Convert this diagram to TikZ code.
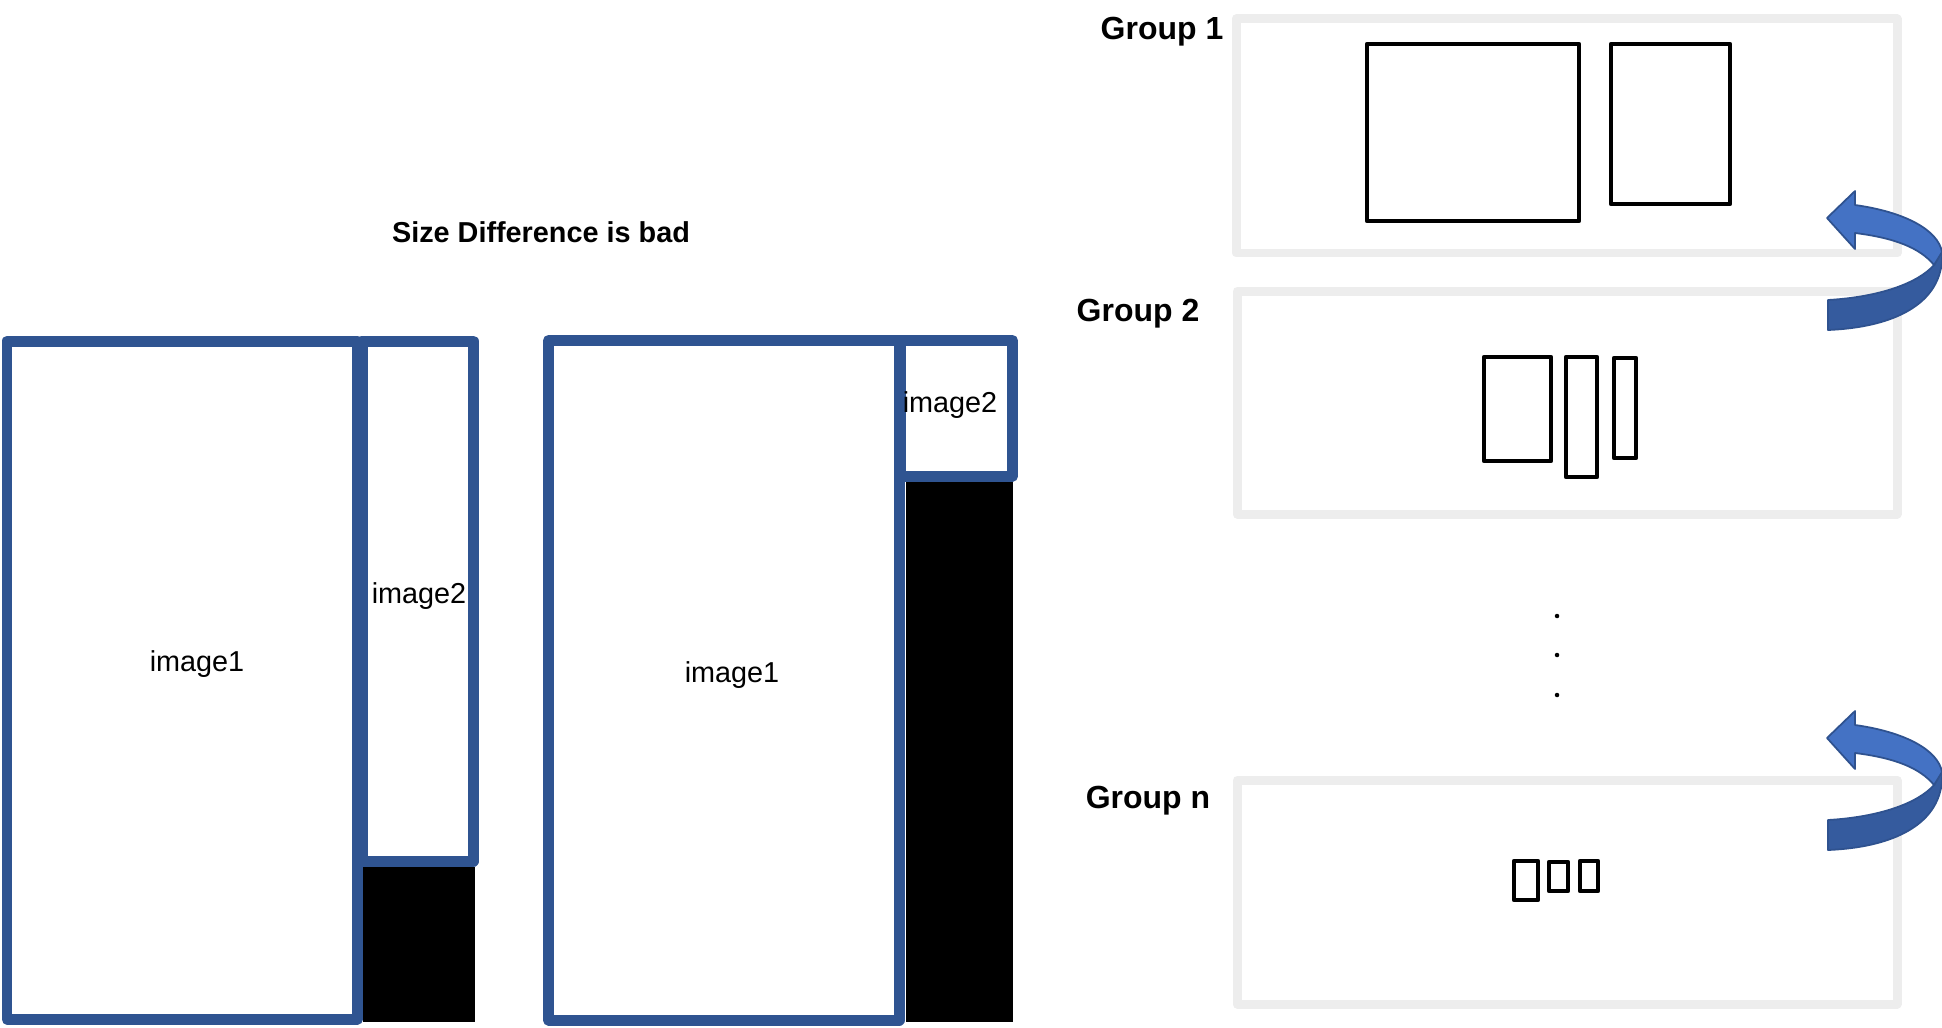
\documentclass[tikz,border=0pt]{standalone}
\usepackage{fontspec}
\setmainfont{Liberation Sans}
\definecolor{imgblue}{RGB}{47,84,145}
\definecolor{grpgray}{RGB}{237,237,237}
\definecolor{arrlight}{RGB}{68,114,196}
\definecolor{arrdark}{RGB}{53,91,158}
\definecolor{arredge}{RGB}{47,82,143}
\begin{document}
\begin{tikzpicture}[x=0.02cm, y=-0.02cm,
	img/.style = {draw=imgblue, line width=0.22cm, line join=round},
	grp/.style = {draw=grpgray, line width=0.18cm, line join=round},
	item/.style = {draw, line width=0.09cm, line join=round},
	lbl/.style = {font=\fontsize{16.4}{19}\selectfont, inner sep=0pt},
	title/.style = {font=\bfseries\fontsize{16.4}{19}\selectfont, inner sep=0pt},
	glbl/.style = {font=\bfseries\fontsize{18.2}{21}\selectfont, inner sep=0pt},
	backarrow/.pic = {
		\filldraw[fill=arrdark, draw=arredge, line width=1pt, line join=round] (107,47) -- (115,33) .. controls (118,82) and (73,109) .. (1,112) -- (1,82) .. controls (53,79) and (91,65) .. (107,47) -- cycle;
		\filldraw[fill=arrlight, draw=arredge, line width=1pt, line join=round] (28,-13) .. controls (78,-6) and (111,12) .. (115,34) -- (107,47) .. controls (93,30) and (68,20) .. (28,15) -- (28,31) -- (0,0) -- (28,-27) -- cycle;
	}]
	\useasboundingbox (0,0) rectangle (1942,1027);
	
	\node[title] (t) at (541,232) {Size Difference is bad};
	
	\fill (363,867) rectangle (475,1022);
	\fill (906,482) rectangle (1013,1022);
	\draw[img] (7,341) rectangle (357.5,1019);
	\draw[img] (362,341) rectangle (473.3,861);
	\draw[img] (548.5,340.5) rectangle (899,1020);
	\draw[img] (900,340.5) rectangle (1012.5,476);
	
	\node[lbl] (a1) at (197,664) {image1};
	\node[lbl] (a2) at (419,596) {image2};
	\node[lbl] (b1) at (732,675) {image1};
	\node[lbl] (b2) at (950,405) {image2};
	
	\node[glbl] (g1) at (1162,32) {Group 1};
	\node[glbl] (g2) at (1138,314) {Group 2};
	\node[glbl] (gn) at (1148,801) {Group n};
	
	\draw[grp] (1236,19) rectangle (1897,253);
	\draw[grp] (1237,291) rectangle (1897,514);
	\draw[grp] (1237,780) rectangle (1897,1004);
	
	\draw[item] (1367,44) rectangle (1579,221);
	\draw[item] (1611,44) rectangle (1730,204);
	\draw[item] (1484,357) rectangle (1551,461);
	\draw[item] (1566,357) rectangle (1597,477);
	\draw[item] (1614,358) rectangle (1636,458);
	\draw[item] (1514,861) rectangle (1538,900);
	\draw[item] (1549,862) rectangle (1568,891);
	\draw[item] (1580,861) rectangle (1598,891);
	
	\foreach \y in {616,655,695} \fill (1557,\y) circle (0.045cm);
	
	\pic at (1827,218) {backarrow};
	\pic at (1827,738) {backarrow};
	
\end{tikzpicture}
\end{document}
